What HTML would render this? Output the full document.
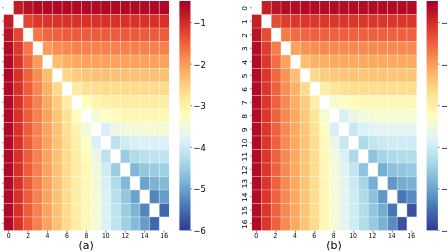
<!DOCTYPE html><html><head><meta charset="utf-8"><title>heatmaps</title><style>html,body{margin:0;padding:0;background:#fff}svg{display:block}.g{stroke:#fff;stroke-width:0.6;stroke-opacity:.5}text{font-family:"DejaVu Sans","Liberation Sans",sans-serif;fill:#000}.t{font-size:7px;text-anchor:middle}.c{font-size:9.3px}.l{font-size:10.4px;text-anchor:middle}.k{stroke:#333;stroke-width:.6}</style></head><body>
<svg width="448" height="252" viewBox="0 0 448 252">
<rect width="448" height="252" fill="#fff"/>
<rect x="13.52" y="1.00" width="9.72" height="13.49" fill="#c21c27"/>
<rect x="23.24" y="1.00" width="9.72" height="13.49" fill="#b71126"/>
<rect x="32.95" y="1.00" width="9.72" height="13.49" fill="#b10b26"/>
<rect x="42.67" y="1.00" width="9.72" height="13.49" fill="#af0926"/>
<rect x="52.39" y="1.00" width="9.72" height="13.49" fill="#af0926"/>
<rect x="62.11" y="1.00" width="9.72" height="13.49" fill="#af0926"/>
<rect x="71.82" y="1.00" width="9.72" height="13.49" fill="#af0926"/>
<rect x="81.54" y="1.00" width="9.72" height="13.49" fill="#af0926"/>
<rect x="91.26" y="1.00" width="9.72" height="13.49" fill="#af0926"/>
<rect x="100.98" y="1.00" width="9.72" height="13.49" fill="#af0926"/>
<rect x="110.69" y="1.00" width="9.72" height="13.49" fill="#af0926"/>
<rect x="120.41" y="1.00" width="9.72" height="13.49" fill="#af0926"/>
<rect x="130.13" y="1.00" width="9.72" height="13.49" fill="#af0926"/>
<rect x="139.85" y="1.00" width="9.72" height="13.49" fill="#af0926"/>
<rect x="149.56" y="1.00" width="9.72" height="13.49" fill="#af0926"/>
<rect x="159.28" y="1.00" width="9.72" height="13.49" fill="#af0926"/>
<rect x="3.80" y="14.49" width="9.72" height="13.49" fill="#c21c27"/>
<rect x="23.24" y="14.49" width="9.72" height="13.49" fill="#e24731"/>
<rect x="32.95" y="14.49" width="9.72" height="13.49" fill="#db382b"/>
<rect x="42.67" y="14.49" width="9.72" height="13.49" fill="#d93429"/>
<rect x="52.39" y="14.49" width="9.72" height="13.49" fill="#d83128"/>
<rect x="62.11" y="14.49" width="9.72" height="13.49" fill="#d83128"/>
<rect x="71.82" y="14.49" width="9.72" height="13.49" fill="#d83128"/>
<rect x="81.54" y="14.49" width="9.72" height="13.49" fill="#d83128"/>
<rect x="91.26" y="14.49" width="9.72" height="13.49" fill="#d83128"/>
<rect x="100.98" y="14.49" width="9.72" height="13.49" fill="#d83128"/>
<rect x="110.69" y="14.49" width="9.72" height="13.49" fill="#d83128"/>
<rect x="120.41" y="14.49" width="9.72" height="13.49" fill="#d83128"/>
<rect x="130.13" y="14.49" width="9.72" height="13.49" fill="#d83128"/>
<rect x="139.85" y="14.49" width="9.72" height="13.49" fill="#d83128"/>
<rect x="149.56" y="14.49" width="9.72" height="13.49" fill="#d83128"/>
<rect x="159.28" y="14.49" width="9.72" height="13.49" fill="#d83128"/>
<rect x="3.80" y="27.99" width="9.72" height="13.49" fill="#b71126"/>
<rect x="13.52" y="27.99" width="9.72" height="13.49" fill="#e24731"/>
<rect x="32.95" y="27.99" width="9.72" height="13.49" fill="#f57748"/>
<rect x="42.67" y="27.99" width="9.72" height="13.49" fill="#f16640"/>
<rect x="52.39" y="27.99" width="9.72" height="13.49" fill="#ee613e"/>
<rect x="62.11" y="27.99" width="9.72" height="13.49" fill="#ec5c3b"/>
<rect x="71.82" y="27.99" width="9.72" height="13.49" fill="#ec5c3b"/>
<rect x="81.54" y="27.99" width="9.72" height="13.49" fill="#ec5c3b"/>
<rect x="91.26" y="27.99" width="9.72" height="13.49" fill="#ec5c3b"/>
<rect x="100.98" y="27.99" width="9.72" height="13.49" fill="#ec5c3b"/>
<rect x="110.69" y="27.99" width="9.72" height="13.49" fill="#ec5c3b"/>
<rect x="120.41" y="27.99" width="9.72" height="13.49" fill="#ec5c3b"/>
<rect x="130.13" y="27.99" width="9.72" height="13.49" fill="#ec5c3b"/>
<rect x="139.85" y="27.99" width="9.72" height="13.49" fill="#ec5c3b"/>
<rect x="149.56" y="27.99" width="9.72" height="13.49" fill="#ec5c3b"/>
<rect x="159.28" y="27.99" width="9.72" height="13.49" fill="#ec5c3b"/>
<rect x="3.80" y="41.48" width="9.72" height="13.49" fill="#b10b26"/>
<rect x="13.52" y="41.48" width="9.72" height="13.49" fill="#db382b"/>
<rect x="23.24" y="41.48" width="9.72" height="13.49" fill="#f57748"/>
<rect x="42.67" y="41.48" width="9.72" height="13.49" fill="#fb9d59"/>
<rect x="52.39" y="41.48" width="9.72" height="13.49" fill="#f88c51"/>
<rect x="62.11" y="41.48" width="9.72" height="13.49" fill="#f8864f"/>
<rect x="71.82" y="41.48" width="9.72" height="13.49" fill="#f7814c"/>
<rect x="81.54" y="41.48" width="9.72" height="13.49" fill="#f7814c"/>
<rect x="91.26" y="41.48" width="9.72" height="13.49" fill="#f7814c"/>
<rect x="100.98" y="41.48" width="9.72" height="13.49" fill="#f7814c"/>
<rect x="110.69" y="41.48" width="9.72" height="13.49" fill="#f7814c"/>
<rect x="120.41" y="41.48" width="9.72" height="13.49" fill="#f7814c"/>
<rect x="130.13" y="41.48" width="9.72" height="13.49" fill="#f7814c"/>
<rect x="139.85" y="41.48" width="9.72" height="13.49" fill="#f7814c"/>
<rect x="149.56" y="41.48" width="9.72" height="13.49" fill="#f7814c"/>
<rect x="159.28" y="41.48" width="9.72" height="13.49" fill="#f7814c"/>
<rect x="3.80" y="54.98" width="9.72" height="13.49" fill="#af0926"/>
<rect x="13.52" y="54.98" width="9.72" height="13.49" fill="#d93429"/>
<rect x="23.24" y="54.98" width="9.72" height="13.49" fill="#f16640"/>
<rect x="32.95" y="54.98" width="9.72" height="13.49" fill="#fb9d59"/>
<rect x="52.39" y="54.98" width="9.72" height="13.49" fill="#fdbd6f"/>
<rect x="62.11" y="54.98" width="9.72" height="13.49" fill="#fdaf62"/>
<rect x="71.82" y="54.98" width="9.72" height="13.49" fill="#fca85e"/>
<rect x="81.54" y="54.98" width="9.72" height="13.49" fill="#fba35c"/>
<rect x="91.26" y="54.98" width="9.72" height="13.49" fill="#fba35c"/>
<rect x="100.98" y="54.98" width="9.72" height="13.49" fill="#fba35c"/>
<rect x="110.69" y="54.98" width="9.72" height="13.49" fill="#fba35c"/>
<rect x="120.41" y="54.98" width="9.72" height="13.49" fill="#fba35c"/>
<rect x="130.13" y="54.98" width="9.72" height="13.49" fill="#fba35c"/>
<rect x="139.85" y="54.98" width="9.72" height="13.49" fill="#fba35c"/>
<rect x="149.56" y="54.98" width="9.72" height="13.49" fill="#fba35c"/>
<rect x="159.28" y="54.98" width="9.72" height="13.49" fill="#fba35c"/>
<rect x="3.80" y="68.47" width="9.72" height="13.49" fill="#af0926"/>
<rect x="13.52" y="68.47" width="9.72" height="13.49" fill="#d83128"/>
<rect x="23.24" y="68.47" width="9.72" height="13.49" fill="#ee613e"/>
<rect x="32.95" y="68.47" width="9.72" height="13.49" fill="#f88c51"/>
<rect x="42.67" y="68.47" width="9.72" height="13.49" fill="#fdbd6f"/>
<rect x="62.11" y="68.47" width="9.72" height="13.49" fill="#fed889"/>
<rect x="71.82" y="68.47" width="9.72" height="13.49" fill="#feca7c"/>
<rect x="81.54" y="68.47" width="9.72" height="13.49" fill="#fdc576"/>
<rect x="91.26" y="68.47" width="9.72" height="13.49" fill="#fdc173"/>
<rect x="100.98" y="68.47" width="9.72" height="13.49" fill="#fdc173"/>
<rect x="110.69" y="68.47" width="9.72" height="13.49" fill="#fdc173"/>
<rect x="120.41" y="68.47" width="9.72" height="13.49" fill="#fdc173"/>
<rect x="130.13" y="68.47" width="9.72" height="13.49" fill="#fdc173"/>
<rect x="139.85" y="68.47" width="9.72" height="13.49" fill="#fdc173"/>
<rect x="149.56" y="68.47" width="9.72" height="13.49" fill="#fdc173"/>
<rect x="159.28" y="68.47" width="9.72" height="13.49" fill="#fdc173"/>
<rect x="3.80" y="81.96" width="9.72" height="13.49" fill="#af0926"/>
<rect x="13.52" y="81.96" width="9.72" height="13.49" fill="#d83128"/>
<rect x="23.24" y="81.96" width="9.72" height="13.49" fill="#ec5c3b"/>
<rect x="32.95" y="81.96" width="9.72" height="13.49" fill="#f8864f"/>
<rect x="42.67" y="81.96" width="9.72" height="13.49" fill="#fdaf62"/>
<rect x="52.39" y="81.96" width="9.72" height="13.49" fill="#fed889"/>
<rect x="71.82" y="81.96" width="9.72" height="13.49" fill="#feeca2"/>
<rect x="81.54" y="81.96" width="9.72" height="13.49" fill="#fee294"/>
<rect x="91.26" y="81.96" width="9.72" height="13.49" fill="#fee090"/>
<rect x="100.98" y="81.96" width="9.72" height="13.49" fill="#fedc8c"/>
<rect x="110.69" y="81.96" width="9.72" height="13.49" fill="#fedc8c"/>
<rect x="120.41" y="81.96" width="9.72" height="13.49" fill="#fedc8c"/>
<rect x="130.13" y="81.96" width="9.72" height="13.49" fill="#fedc8c"/>
<rect x="139.85" y="81.96" width="9.72" height="13.49" fill="#fedc8c"/>
<rect x="149.56" y="81.96" width="9.72" height="13.49" fill="#fedc8c"/>
<rect x="159.28" y="81.96" width="9.72" height="13.49" fill="#fedc8c"/>
<rect x="3.80" y="95.46" width="9.72" height="13.49" fill="#af0926"/>
<rect x="13.52" y="95.46" width="9.72" height="13.49" fill="#d83128"/>
<rect x="23.24" y="95.46" width="9.72" height="13.49" fill="#ec5c3b"/>
<rect x="32.95" y="95.46" width="9.72" height="13.49" fill="#f7814c"/>
<rect x="42.67" y="95.46" width="9.72" height="13.49" fill="#fca85e"/>
<rect x="52.39" y="95.46" width="9.72" height="13.49" fill="#feca7c"/>
<rect x="62.11" y="95.46" width="9.72" height="13.49" fill="#feeca2"/>
<rect x="81.54" y="95.46" width="9.72" height="13.49" fill="#fffdbc"/>
<rect x="91.26" y="95.46" width="9.72" height="13.49" fill="#fff3ad"/>
<rect x="100.98" y="95.46" width="9.72" height="13.49" fill="#fff0a8"/>
<rect x="110.69" y="95.46" width="9.72" height="13.49" fill="#feeda4"/>
<rect x="120.41" y="95.46" width="9.72" height="13.49" fill="#feeda4"/>
<rect x="130.13" y="95.46" width="9.72" height="13.49" fill="#feeda4"/>
<rect x="139.85" y="95.46" width="9.72" height="13.49" fill="#feeda4"/>
<rect x="149.56" y="95.46" width="9.72" height="13.49" fill="#feeda4"/>
<rect x="159.28" y="95.46" width="9.72" height="13.49" fill="#feeda4"/>
<rect x="3.80" y="108.95" width="9.72" height="13.49" fill="#af0926"/>
<rect x="13.52" y="108.95" width="9.72" height="13.49" fill="#d83128"/>
<rect x="23.24" y="108.95" width="9.72" height="13.49" fill="#ec5c3b"/>
<rect x="32.95" y="108.95" width="9.72" height="13.49" fill="#f7814c"/>
<rect x="42.67" y="108.95" width="9.72" height="13.49" fill="#fba35c"/>
<rect x="52.39" y="108.95" width="9.72" height="13.49" fill="#fdc576"/>
<rect x="62.11" y="108.95" width="9.72" height="13.49" fill="#fee294"/>
<rect x="71.82" y="108.95" width="9.72" height="13.49" fill="#fffdbc"/>
<rect x="91.26" y="108.95" width="9.72" height="13.49" fill="#f1fad9"/>
<rect x="100.98" y="108.95" width="9.72" height="13.49" fill="#feffc0"/>
<rect x="110.69" y="108.95" width="9.72" height="13.49" fill="#fffcba"/>
<rect x="120.41" y="108.95" width="9.72" height="13.49" fill="#fff8b5"/>
<rect x="130.13" y="108.95" width="9.72" height="13.49" fill="#fff8b5"/>
<rect x="139.85" y="108.95" width="9.72" height="13.49" fill="#fff8b5"/>
<rect x="149.56" y="108.95" width="9.72" height="13.49" fill="#fff8b5"/>
<rect x="159.28" y="108.95" width="9.72" height="13.49" fill="#fff8b5"/>
<rect x="3.80" y="122.45" width="9.72" height="13.49" fill="#af0926"/>
<rect x="13.52" y="122.45" width="9.72" height="13.49" fill="#d83128"/>
<rect x="23.24" y="122.45" width="9.72" height="13.49" fill="#ec5c3b"/>
<rect x="32.95" y="122.45" width="9.72" height="13.49" fill="#f7814c"/>
<rect x="42.67" y="122.45" width="9.72" height="13.49" fill="#fba35c"/>
<rect x="52.39" y="122.45" width="9.72" height="13.49" fill="#fdc173"/>
<rect x="62.11" y="122.45" width="9.72" height="13.49" fill="#fee090"/>
<rect x="71.82" y="122.45" width="9.72" height="13.49" fill="#fff3ad"/>
<rect x="81.54" y="122.45" width="9.72" height="13.49" fill="#f1fad9"/>
<rect x="100.98" y="122.45" width="9.72" height="13.49" fill="#daf0f6"/>
<rect x="110.69" y="122.45" width="9.72" height="13.49" fill="#ebf7e4"/>
<rect x="120.41" y="122.45" width="9.72" height="13.49" fill="#f0f9db"/>
<rect x="130.13" y="122.45" width="9.72" height="13.49" fill="#f3fbd4"/>
<rect x="139.85" y="122.45" width="9.72" height="13.49" fill="#f3fbd4"/>
<rect x="149.56" y="122.45" width="9.72" height="13.49" fill="#f3fbd4"/>
<rect x="159.28" y="122.45" width="9.72" height="13.49" fill="#f3fbd4"/>
<rect x="3.80" y="135.94" width="9.72" height="13.49" fill="#af0926"/>
<rect x="13.52" y="135.94" width="9.72" height="13.49" fill="#d83128"/>
<rect x="23.24" y="135.94" width="9.72" height="13.49" fill="#ec5c3b"/>
<rect x="32.95" y="135.94" width="9.72" height="13.49" fill="#f7814c"/>
<rect x="42.67" y="135.94" width="9.72" height="13.49" fill="#fba35c"/>
<rect x="52.39" y="135.94" width="9.72" height="13.49" fill="#fdc173"/>
<rect x="62.11" y="135.94" width="9.72" height="13.49" fill="#fedc8c"/>
<rect x="71.82" y="135.94" width="9.72" height="13.49" fill="#fff0a8"/>
<rect x="81.54" y="135.94" width="9.72" height="13.49" fill="#feffc0"/>
<rect x="91.26" y="135.94" width="9.72" height="13.49" fill="#daf0f6"/>
<rect x="110.69" y="135.94" width="9.72" height="13.49" fill="#bde2ee"/>
<rect x="120.41" y="135.94" width="9.72" height="13.49" fill="#cfebf3"/>
<rect x="130.13" y="135.94" width="9.72" height="13.49" fill="#d8eff6"/>
<rect x="139.85" y="135.94" width="9.72" height="13.49" fill="#dcf1f7"/>
<rect x="149.56" y="135.94" width="9.72" height="13.49" fill="#dcf1f7"/>
<rect x="159.28" y="135.94" width="9.72" height="13.49" fill="#dcf1f7"/>
<rect x="3.80" y="149.44" width="9.72" height="13.49" fill="#af0926"/>
<rect x="13.52" y="149.44" width="9.72" height="13.49" fill="#d83128"/>
<rect x="23.24" y="149.44" width="9.72" height="13.49" fill="#ec5c3b"/>
<rect x="32.95" y="149.44" width="9.72" height="13.49" fill="#f7814c"/>
<rect x="42.67" y="149.44" width="9.72" height="13.49" fill="#fba35c"/>
<rect x="52.39" y="149.44" width="9.72" height="13.49" fill="#fdc173"/>
<rect x="62.11" y="149.44" width="9.72" height="13.49" fill="#fedc8c"/>
<rect x="71.82" y="149.44" width="9.72" height="13.49" fill="#feeda4"/>
<rect x="81.54" y="149.44" width="9.72" height="13.49" fill="#fffcba"/>
<rect x="91.26" y="149.44" width="9.72" height="13.49" fill="#ebf7e4"/>
<rect x="100.98" y="149.44" width="9.72" height="13.49" fill="#bde2ee"/>
<rect x="120.41" y="149.44" width="9.72" height="13.49" fill="#9bcce2"/>
<rect x="130.13" y="149.44" width="9.72" height="13.49" fill="#b0dcea"/>
<rect x="139.85" y="149.44" width="9.72" height="13.49" fill="#b9e0ed"/>
<rect x="149.56" y="149.44" width="9.72" height="13.49" fill="#bfe3ef"/>
<rect x="159.28" y="149.44" width="9.72" height="13.49" fill="#bfe3ef"/>
<rect x="3.80" y="162.93" width="9.72" height="13.49" fill="#af0926"/>
<rect x="13.52" y="162.93" width="9.72" height="13.49" fill="#d83128"/>
<rect x="23.24" y="162.93" width="9.72" height="13.49" fill="#ec5c3b"/>
<rect x="32.95" y="162.93" width="9.72" height="13.49" fill="#f7814c"/>
<rect x="42.67" y="162.93" width="9.72" height="13.49" fill="#fba35c"/>
<rect x="52.39" y="162.93" width="9.72" height="13.49" fill="#fdc173"/>
<rect x="62.11" y="162.93" width="9.72" height="13.49" fill="#fedc8c"/>
<rect x="71.82" y="162.93" width="9.72" height="13.49" fill="#feeda4"/>
<rect x="81.54" y="162.93" width="9.72" height="13.49" fill="#fff8b5"/>
<rect x="91.26" y="162.93" width="9.72" height="13.49" fill="#f0f9db"/>
<rect x="100.98" y="162.93" width="9.72" height="13.49" fill="#cfebf3"/>
<rect x="110.69" y="162.93" width="9.72" height="13.49" fill="#9bcce2"/>
<rect x="130.13" y="162.93" width="9.72" height="13.49" fill="#81b7d7"/>
<rect x="139.85" y="162.93" width="9.72" height="13.49" fill="#94c7df"/>
<rect x="149.56" y="162.93" width="9.72" height="13.49" fill="#9bcce2"/>
<rect x="159.28" y="162.93" width="9.72" height="13.49" fill="#9fd0e4"/>
<rect x="3.80" y="176.42" width="9.72" height="13.49" fill="#af0926"/>
<rect x="13.52" y="176.42" width="9.72" height="13.49" fill="#d83128"/>
<rect x="23.24" y="176.42" width="9.72" height="13.49" fill="#ec5c3b"/>
<rect x="32.95" y="176.42" width="9.72" height="13.49" fill="#f7814c"/>
<rect x="42.67" y="176.42" width="9.72" height="13.49" fill="#fba35c"/>
<rect x="52.39" y="176.42" width="9.72" height="13.49" fill="#fdc173"/>
<rect x="62.11" y="176.42" width="9.72" height="13.49" fill="#fedc8c"/>
<rect x="71.82" y="176.42" width="9.72" height="13.49" fill="#feeda4"/>
<rect x="81.54" y="176.42" width="9.72" height="13.49" fill="#fff8b5"/>
<rect x="91.26" y="176.42" width="9.72" height="13.49" fill="#f3fbd4"/>
<rect x="100.98" y="176.42" width="9.72" height="13.49" fill="#d8eff6"/>
<rect x="110.69" y="176.42" width="9.72" height="13.49" fill="#b0dcea"/>
<rect x="120.41" y="176.42" width="9.72" height="13.49" fill="#81b7d7"/>
<rect x="139.85" y="176.42" width="9.72" height="13.49" fill="#6da4cc"/>
<rect x="149.56" y="176.42" width="9.72" height="13.49" fill="#7db4d5"/>
<rect x="159.28" y="176.42" width="9.72" height="13.49" fill="#85bbd9"/>
<rect x="3.80" y="189.92" width="9.72" height="13.49" fill="#af0926"/>
<rect x="13.52" y="189.92" width="9.72" height="13.49" fill="#d83128"/>
<rect x="23.24" y="189.92" width="9.72" height="13.49" fill="#ec5c3b"/>
<rect x="32.95" y="189.92" width="9.72" height="13.49" fill="#f7814c"/>
<rect x="42.67" y="189.92" width="9.72" height="13.49" fill="#fba35c"/>
<rect x="52.39" y="189.92" width="9.72" height="13.49" fill="#fdc173"/>
<rect x="62.11" y="189.92" width="9.72" height="13.49" fill="#fedc8c"/>
<rect x="71.82" y="189.92" width="9.72" height="13.49" fill="#feeda4"/>
<rect x="81.54" y="189.92" width="9.72" height="13.49" fill="#fff8b5"/>
<rect x="91.26" y="189.92" width="9.72" height="13.49" fill="#f3fbd4"/>
<rect x="100.98" y="189.92" width="9.72" height="13.49" fill="#dcf1f7"/>
<rect x="110.69" y="189.92" width="9.72" height="13.49" fill="#b9e0ed"/>
<rect x="120.41" y="189.92" width="9.72" height="13.49" fill="#94c7df"/>
<rect x="130.13" y="189.92" width="9.72" height="13.49" fill="#6da4cc"/>
<rect x="149.56" y="189.92" width="9.72" height="13.49" fill="#5385bd"/>
<rect x="159.28" y="189.92" width="9.72" height="13.49" fill="#679ec9"/>
<rect x="3.80" y="203.41" width="9.72" height="13.49" fill="#af0926"/>
<rect x="13.52" y="203.41" width="9.72" height="13.49" fill="#d83128"/>
<rect x="23.24" y="203.41" width="9.72" height="13.49" fill="#ec5c3b"/>
<rect x="32.95" y="203.41" width="9.72" height="13.49" fill="#f7814c"/>
<rect x="42.67" y="203.41" width="9.72" height="13.49" fill="#fba35c"/>
<rect x="52.39" y="203.41" width="9.72" height="13.49" fill="#fdc173"/>
<rect x="62.11" y="203.41" width="9.72" height="13.49" fill="#fedc8c"/>
<rect x="71.82" y="203.41" width="9.72" height="13.49" fill="#feeda4"/>
<rect x="81.54" y="203.41" width="9.72" height="13.49" fill="#fff8b5"/>
<rect x="91.26" y="203.41" width="9.72" height="13.49" fill="#f3fbd4"/>
<rect x="100.98" y="203.41" width="9.72" height="13.49" fill="#dcf1f7"/>
<rect x="110.69" y="203.41" width="9.72" height="13.49" fill="#bfe3ef"/>
<rect x="120.41" y="203.41" width="9.72" height="13.49" fill="#9bcce2"/>
<rect x="130.13" y="203.41" width="9.72" height="13.49" fill="#7db4d5"/>
<rect x="139.85" y="203.41" width="9.72" height="13.49" fill="#5385bd"/>
<rect x="159.28" y="203.41" width="9.72" height="13.49" fill="#4167ad"/>
<rect x="3.80" y="216.91" width="9.72" height="13.49" fill="#af0926"/>
<rect x="13.52" y="216.91" width="9.72" height="13.49" fill="#d83128"/>
<rect x="23.24" y="216.91" width="9.72" height="13.49" fill="#ec5c3b"/>
<rect x="32.95" y="216.91" width="9.72" height="13.49" fill="#f7814c"/>
<rect x="42.67" y="216.91" width="9.72" height="13.49" fill="#fba35c"/>
<rect x="52.39" y="216.91" width="9.72" height="13.49" fill="#fdc173"/>
<rect x="62.11" y="216.91" width="9.72" height="13.49" fill="#fedc8c"/>
<rect x="71.82" y="216.91" width="9.72" height="13.49" fill="#feeda4"/>
<rect x="81.54" y="216.91" width="9.72" height="13.49" fill="#fff8b5"/>
<rect x="91.26" y="216.91" width="9.72" height="13.49" fill="#f3fbd4"/>
<rect x="100.98" y="216.91" width="9.72" height="13.49" fill="#dcf1f7"/>
<rect x="110.69" y="216.91" width="9.72" height="13.49" fill="#bfe3ef"/>
<rect x="120.41" y="216.91" width="9.72" height="13.49" fill="#9fd0e4"/>
<rect x="130.13" y="216.91" width="9.72" height="13.49" fill="#85bbd9"/>
<rect x="139.85" y="216.91" width="9.72" height="13.49" fill="#679ec9"/>
<rect x="149.56" y="216.91" width="9.72" height="13.49" fill="#4167ad"/>
<line x1="13.52" y1="1.00" x2="13.52" y2="230.40" class="g"/>
<line x1="3.80" y1="14.49" x2="169.00" y2="14.49" class="g"/>
<line x1="23.24" y1="1.00" x2="23.24" y2="230.40" class="g"/>
<line x1="3.80" y1="27.99" x2="169.00" y2="27.99" class="g"/>
<line x1="32.95" y1="1.00" x2="32.95" y2="230.40" class="g"/>
<line x1="3.80" y1="41.48" x2="169.00" y2="41.48" class="g"/>
<line x1="42.67" y1="1.00" x2="42.67" y2="230.40" class="g"/>
<line x1="3.80" y1="54.98" x2="169.00" y2="54.98" class="g"/>
<line x1="52.39" y1="1.00" x2="52.39" y2="230.40" class="g"/>
<line x1="3.80" y1="68.47" x2="169.00" y2="68.47" class="g"/>
<line x1="62.11" y1="1.00" x2="62.11" y2="230.40" class="g"/>
<line x1="3.80" y1="81.96" x2="169.00" y2="81.96" class="g"/>
<line x1="71.82" y1="1.00" x2="71.82" y2="230.40" class="g"/>
<line x1="3.80" y1="95.46" x2="169.00" y2="95.46" class="g"/>
<line x1="81.54" y1="1.00" x2="81.54" y2="230.40" class="g"/>
<line x1="3.80" y1="108.95" x2="169.00" y2="108.95" class="g"/>
<line x1="91.26" y1="1.00" x2="91.26" y2="230.40" class="g"/>
<line x1="3.80" y1="122.45" x2="169.00" y2="122.45" class="g"/>
<line x1="100.98" y1="1.00" x2="100.98" y2="230.40" class="g"/>
<line x1="3.80" y1="135.94" x2="169.00" y2="135.94" class="g"/>
<line x1="110.69" y1="1.00" x2="110.69" y2="230.40" class="g"/>
<line x1="3.80" y1="149.44" x2="169.00" y2="149.44" class="g"/>
<line x1="120.41" y1="1.00" x2="120.41" y2="230.40" class="g"/>
<line x1="3.80" y1="162.93" x2="169.00" y2="162.93" class="g"/>
<line x1="130.13" y1="1.00" x2="130.13" y2="230.40" class="g"/>
<line x1="3.80" y1="176.42" x2="169.00" y2="176.42" class="g"/>
<line x1="139.85" y1="1.00" x2="139.85" y2="230.40" class="g"/>
<line x1="3.80" y1="189.92" x2="169.00" y2="189.92" class="g"/>
<line x1="149.56" y1="1.00" x2="149.56" y2="230.40" class="g"/>
<line x1="3.80" y1="203.41" x2="169.00" y2="203.41" class="g"/>
<line x1="159.28" y1="1.00" x2="159.28" y2="230.40" class="g"/>
<line x1="3.80" y1="216.91" x2="169.00" y2="216.91" class="g"/>
<line class="k" x1="8.66" x2="8.66" y1="230.7" y2="232.7"/>
<text class="t" transform="translate(8.66,238.45) scale(0.87,1)">0</text>
<line class="k" x1="28.09" x2="28.09" y1="230.7" y2="232.7"/>
<text class="t" transform="translate(28.09,238.45) scale(0.87,1)">2</text>
<line class="k" x1="47.53" x2="47.53" y1="230.7" y2="232.7"/>
<text class="t" transform="translate(47.53,238.45) scale(0.87,1)">4</text>
<line class="k" x1="66.96" x2="66.96" y1="230.7" y2="232.7"/>
<text class="t" transform="translate(66.96,238.45) scale(0.87,1)">6</text>
<line class="k" x1="86.40" x2="86.40" y1="230.7" y2="232.7"/>
<text class="t" transform="translate(86.40,238.45) scale(0.87,1)">8</text>
<line class="k" x1="105.84" x2="105.84" y1="230.7" y2="232.7"/>
<text class="t" transform="translate(105.84,238.45) scale(0.87,1)">10</text>
<line class="k" x1="125.27" x2="125.27" y1="230.7" y2="232.7"/>
<text class="t" transform="translate(125.27,238.45) scale(0.87,1)">12</text>
<line class="k" x1="144.71" x2="144.71" y1="230.7" y2="232.7"/>
<text class="t" transform="translate(144.71,238.45) scale(0.87,1)">14</text>
<line class="k" x1="164.14" x2="164.14" y1="230.7" y2="232.7"/>
<text class="t" transform="translate(164.14,238.45) scale(0.87,1)">16</text>
<line class="k" x1="2.2" x2="3.6" y1="7.75" y2="7.75"/>
<line class="k" x1="2.2" x2="3.6" y1="21.24" y2="21.24"/>
<line class="k" x1="2.2" x2="3.6" y1="34.74" y2="34.74"/>
<line class="k" x1="2.2" x2="3.6" y1="48.23" y2="48.23"/>
<line class="k" x1="2.2" x2="3.6" y1="61.72" y2="61.72"/>
<line class="k" x1="2.2" x2="3.6" y1="75.22" y2="75.22"/>
<line class="k" x1="2.2" x2="3.6" y1="88.71" y2="88.71"/>
<line class="k" x1="2.2" x2="3.6" y1="102.21" y2="102.21"/>
<line class="k" x1="2.2" x2="3.6" y1="115.70" y2="115.70"/>
<line class="k" x1="2.2" x2="3.6" y1="129.19" y2="129.19"/>
<line class="k" x1="2.2" x2="3.6" y1="142.69" y2="142.69"/>
<line class="k" x1="2.2" x2="3.6" y1="156.18" y2="156.18"/>
<line class="k" x1="2.2" x2="3.6" y1="169.68" y2="169.68"/>
<line class="k" x1="2.2" x2="3.6" y1="183.17" y2="183.17"/>
<line class="k" x1="2.2" x2="3.6" y1="196.66" y2="196.66"/>
<line class="k" x1="2.2" x2="3.6" y1="210.16" y2="210.16"/>
<line class="k" x1="2.2" x2="3.6" y1="223.65" y2="223.65"/>
<defs><linearGradient id="ga" x1="0" y1="0" x2="0" y2="1"><stop offset="0.0000" stop-color="#a50026"/><stop offset="0.0312" stop-color="#b30d26"/><stop offset="0.0625" stop-color="#c21c27"/><stop offset="0.0938" stop-color="#d22b27"/><stop offset="0.1250" stop-color="#dd3d2d"/><stop offset="0.1562" stop-color="#e65036"/><stop offset="0.1875" stop-color="#ef633f"/><stop offset="0.2188" stop-color="#f57748"/><stop offset="0.2500" stop-color="#f88c51"/><stop offset="0.2812" stop-color="#fba05b"/><stop offset="0.3125" stop-color="#fdb366"/><stop offset="0.3438" stop-color="#fdc374"/><stop offset="0.3750" stop-color="#fed283"/><stop offset="0.4062" stop-color="#fee192"/><stop offset="0.4375" stop-color="#feeba1"/><stop offset="0.4688" stop-color="#fff5af"/><stop offset="0.5000" stop-color="#fffebe"/><stop offset="0.5312" stop-color="#f6fbd0"/><stop offset="0.5625" stop-color="#ecf8e2"/><stop offset="0.5938" stop-color="#e2f4f4"/><stop offset="0.6250" stop-color="#d4edf4"/><stop offset="0.6562" stop-color="#c3e5f0"/><stop offset="0.6875" stop-color="#b2ddeb"/><stop offset="0.7188" stop-color="#a1d1e5"/><stop offset="0.7500" stop-color="#90c3dd"/><stop offset="0.7812" stop-color="#7fb6d6"/><stop offset="0.8125" stop-color="#6ea6ce"/><stop offset="0.8438" stop-color="#6095c4"/><stop offset="0.8750" stop-color="#5183bb"/><stop offset="0.9062" stop-color="#4471b2"/><stop offset="0.9375" stop-color="#3e5ea8"/><stop offset="0.9688" stop-color="#374a9f"/><stop offset="1.0000" stop-color="#313695"/></linearGradient></defs><rect x="179.40" y="1.00" width="11.10" height="229.40" fill="url(#ga)"/>
<line class="k" x1="190.5" x2="192.2" y1="22.50" y2="22.50"/>
<text class="c" transform="translate(193.4,26.10) scale(0.9,1)">−1</text>
<line class="k" x1="190.5" x2="192.2" y1="64.08" y2="64.08"/>
<text class="c" transform="translate(193.4,67.68) scale(0.9,1)">−2</text>
<line class="k" x1="190.5" x2="192.2" y1="105.66" y2="105.66"/>
<text class="c" transform="translate(193.4,109.26) scale(0.9,1)">−3</text>
<line class="k" x1="190.5" x2="192.2" y1="147.24" y2="147.24"/>
<text class="c" transform="translate(193.4,150.84) scale(0.9,1)">−4</text>
<line class="k" x1="190.5" x2="192.2" y1="188.82" y2="188.82"/>
<text class="c" transform="translate(193.4,192.42) scale(0.9,1)">−5</text>
<line class="k" x1="190.5" x2="192.2" y1="230.40" y2="230.40"/>
<text class="c" transform="translate(193.4,234.00) scale(0.9,1)">−6</text>
<text class="l" transform="translate(86.1,248.9) scale(1.06,1)">(a)</text>
<rect x="261.59" y="1.00" width="9.69" height="13.49" fill="#c62027"/>
<rect x="271.28" y="1.00" width="9.69" height="13.49" fill="#b91326"/>
<rect x="280.96" y="1.00" width="9.69" height="13.49" fill="#b30d26"/>
<rect x="290.65" y="1.00" width="9.69" height="13.49" fill="#b10b26"/>
<rect x="300.34" y="1.00" width="9.69" height="13.49" fill="#b10b26"/>
<rect x="310.03" y="1.00" width="9.69" height="13.49" fill="#b10b26"/>
<rect x="319.72" y="1.00" width="9.69" height="13.49" fill="#b10b26"/>
<rect x="329.41" y="1.00" width="9.69" height="13.49" fill="#b10b26"/>
<rect x="339.09" y="1.00" width="9.69" height="13.49" fill="#b10b26"/>
<rect x="348.78" y="1.00" width="9.69" height="13.49" fill="#b10b26"/>
<rect x="358.47" y="1.00" width="9.69" height="13.49" fill="#b10b26"/>
<rect x="368.16" y="1.00" width="9.69" height="13.49" fill="#b10b26"/>
<rect x="377.85" y="1.00" width="9.69" height="13.49" fill="#b10b26"/>
<rect x="387.54" y="1.00" width="9.69" height="13.49" fill="#b10b26"/>
<rect x="397.22" y="1.00" width="9.69" height="13.49" fill="#b10b26"/>
<rect x="406.91" y="1.00" width="9.69" height="13.49" fill="#b10b26"/>
<rect x="251.90" y="14.49" width="9.69" height="13.49" fill="#c62027"/>
<rect x="271.28" y="14.49" width="9.69" height="13.49" fill="#e44c34"/>
<rect x="280.96" y="14.49" width="9.69" height="13.49" fill="#dd3d2d"/>
<rect x="290.65" y="14.49" width="9.69" height="13.49" fill="#db382b"/>
<rect x="300.34" y="14.49" width="9.69" height="13.49" fill="#da362a"/>
<rect x="310.03" y="14.49" width="9.69" height="13.49" fill="#da362a"/>
<rect x="319.72" y="14.49" width="9.69" height="13.49" fill="#da362a"/>
<rect x="329.41" y="14.49" width="9.69" height="13.49" fill="#da362a"/>
<rect x="339.09" y="14.49" width="9.69" height="13.49" fill="#da362a"/>
<rect x="348.78" y="14.49" width="9.69" height="13.49" fill="#da362a"/>
<rect x="358.47" y="14.49" width="9.69" height="13.49" fill="#da362a"/>
<rect x="368.16" y="14.49" width="9.69" height="13.49" fill="#da362a"/>
<rect x="377.85" y="14.49" width="9.69" height="13.49" fill="#da362a"/>
<rect x="387.54" y="14.49" width="9.69" height="13.49" fill="#da362a"/>
<rect x="397.22" y="14.49" width="9.69" height="13.49" fill="#da362a"/>
<rect x="406.91" y="14.49" width="9.69" height="13.49" fill="#da362a"/>
<rect x="251.90" y="27.99" width="9.69" height="13.49" fill="#b91326"/>
<rect x="261.59" y="27.99" width="9.69" height="13.49" fill="#e44c34"/>
<rect x="280.96" y="27.99" width="9.69" height="13.49" fill="#f67c4a"/>
<rect x="290.65" y="27.99" width="9.69" height="13.49" fill="#f36b42"/>
<rect x="300.34" y="27.99" width="9.69" height="13.49" fill="#f16640"/>
<rect x="310.03" y="27.99" width="9.69" height="13.49" fill="#ee613e"/>
<rect x="319.72" y="27.99" width="9.69" height="13.49" fill="#ee613e"/>
<rect x="329.41" y="27.99" width="9.69" height="13.49" fill="#ee613e"/>
<rect x="339.09" y="27.99" width="9.69" height="13.49" fill="#ee613e"/>
<rect x="348.78" y="27.99" width="9.69" height="13.49" fill="#ee613e"/>
<rect x="358.47" y="27.99" width="9.69" height="13.49" fill="#ee613e"/>
<rect x="368.16" y="27.99" width="9.69" height="13.49" fill="#ee613e"/>
<rect x="377.85" y="27.99" width="9.69" height="13.49" fill="#ee613e"/>
<rect x="387.54" y="27.99" width="9.69" height="13.49" fill="#ee613e"/>
<rect x="397.22" y="27.99" width="9.69" height="13.49" fill="#ee613e"/>
<rect x="406.91" y="27.99" width="9.69" height="13.49" fill="#ee613e"/>
<rect x="251.90" y="41.48" width="9.69" height="13.49" fill="#b30d26"/>
<rect x="261.59" y="41.48" width="9.69" height="13.49" fill="#dd3d2d"/>
<rect x="271.28" y="41.48" width="9.69" height="13.49" fill="#f67c4a"/>
<rect x="290.65" y="41.48" width="9.69" height="13.49" fill="#fba35c"/>
<rect x="300.34" y="41.48" width="9.69" height="13.49" fill="#f99355"/>
<rect x="310.03" y="41.48" width="9.69" height="13.49" fill="#f98e52"/>
<rect x="319.72" y="41.48" width="9.69" height="13.49" fill="#f88950"/>
<rect x="329.41" y="41.48" width="9.69" height="13.49" fill="#f88950"/>
<rect x="339.09" y="41.48" width="9.69" height="13.49" fill="#f88950"/>
<rect x="348.78" y="41.48" width="9.69" height="13.49" fill="#f88950"/>
<rect x="358.47" y="41.48" width="9.69" height="13.49" fill="#f88950"/>
<rect x="368.16" y="41.48" width="9.69" height="13.49" fill="#f88950"/>
<rect x="377.85" y="41.48" width="9.69" height="13.49" fill="#f88950"/>
<rect x="387.54" y="41.48" width="9.69" height="13.49" fill="#f88950"/>
<rect x="397.22" y="41.48" width="9.69" height="13.49" fill="#f88950"/>
<rect x="406.91" y="41.48" width="9.69" height="13.49" fill="#f88950"/>
<rect x="251.90" y="54.98" width="9.69" height="13.49" fill="#b10b26"/>
<rect x="261.59" y="54.98" width="9.69" height="13.49" fill="#db382b"/>
<rect x="271.28" y="54.98" width="9.69" height="13.49" fill="#f36b42"/>
<rect x="280.96" y="54.98" width="9.69" height="13.49" fill="#fba35c"/>
<rect x="300.34" y="54.98" width="9.69" height="13.49" fill="#fdbf71"/>
<rect x="310.03" y="54.98" width="9.69" height="13.49" fill="#fdb366"/>
<rect x="319.72" y="54.98" width="9.69" height="13.49" fill="#fdaf62"/>
<rect x="329.41" y="54.98" width="9.69" height="13.49" fill="#fcaa5f"/>
<rect x="339.09" y="54.98" width="9.69" height="13.49" fill="#fcaa5f"/>
<rect x="348.78" y="54.98" width="9.69" height="13.49" fill="#fcaa5f"/>
<rect x="358.47" y="54.98" width="9.69" height="13.49" fill="#fcaa5f"/>
<rect x="368.16" y="54.98" width="9.69" height="13.49" fill="#fcaa5f"/>
<rect x="377.85" y="54.98" width="9.69" height="13.49" fill="#fcaa5f"/>
<rect x="387.54" y="54.98" width="9.69" height="13.49" fill="#fcaa5f"/>
<rect x="397.22" y="54.98" width="9.69" height="13.49" fill="#fcaa5f"/>
<rect x="406.91" y="54.98" width="9.69" height="13.49" fill="#fcaa5f"/>
<rect x="251.90" y="68.47" width="9.69" height="13.49" fill="#b10b26"/>
<rect x="261.59" y="68.47" width="9.69" height="13.49" fill="#da362a"/>
<rect x="271.28" y="68.47" width="9.69" height="13.49" fill="#f16640"/>
<rect x="280.96" y="68.47" width="9.69" height="13.49" fill="#f99355"/>
<rect x="290.65" y="68.47" width="9.69" height="13.49" fill="#fdbf71"/>
<rect x="310.03" y="68.47" width="9.69" height="13.49" fill="#feda8a"/>
<rect x="319.72" y="68.47" width="9.69" height="13.49" fill="#fecc7e"/>
<rect x="329.41" y="68.47" width="9.69" height="13.49" fill="#fec87a"/>
<rect x="339.09" y="68.47" width="9.69" height="13.49" fill="#fdc576"/>
<rect x="348.78" y="68.47" width="9.69" height="13.49" fill="#fdc576"/>
<rect x="358.47" y="68.47" width="9.69" height="13.49" fill="#fdc576"/>
<rect x="368.16" y="68.47" width="9.69" height="13.49" fill="#fdc576"/>
<rect x="377.85" y="68.47" width="9.69" height="13.49" fill="#fdc576"/>
<rect x="387.54" y="68.47" width="9.69" height="13.49" fill="#fdc576"/>
<rect x="397.22" y="68.47" width="9.69" height="13.49" fill="#fdc576"/>
<rect x="406.91" y="68.47" width="9.69" height="13.49" fill="#fdc576"/>
<rect x="251.90" y="81.96" width="9.69" height="13.49" fill="#b10b26"/>
<rect x="261.59" y="81.96" width="9.69" height="13.49" fill="#da362a"/>
<rect x="271.28" y="81.96" width="9.69" height="13.49" fill="#ee613e"/>
<rect x="280.96" y="81.96" width="9.69" height="13.49" fill="#f98e52"/>
<rect x="290.65" y="81.96" width="9.69" height="13.49" fill="#fdb366"/>
<rect x="300.34" y="81.96" width="9.69" height="13.49" fill="#feda8a"/>
<rect x="319.72" y="81.96" width="9.69" height="13.49" fill="#feefa6"/>
<rect x="329.41" y="81.96" width="9.69" height="13.49" fill="#fee597"/>
<rect x="339.09" y="81.96" width="9.69" height="13.49" fill="#fee192"/>
<rect x="348.78" y="81.96" width="9.69" height="13.49" fill="#fede8e"/>
<rect x="358.47" y="81.96" width="9.69" height="13.49" fill="#fede8e"/>
<rect x="368.16" y="81.96" width="9.69" height="13.49" fill="#fede8e"/>
<rect x="377.85" y="81.96" width="9.69" height="13.49" fill="#fede8e"/>
<rect x="387.54" y="81.96" width="9.69" height="13.49" fill="#fede8e"/>
<rect x="397.22" y="81.96" width="9.69" height="13.49" fill="#fede8e"/>
<rect x="406.91" y="81.96" width="9.69" height="13.49" fill="#fede8e"/>
<rect x="251.90" y="95.46" width="9.69" height="13.49" fill="#b10b26"/>
<rect x="261.59" y="95.46" width="9.69" height="13.49" fill="#da362a"/>
<rect x="271.28" y="95.46" width="9.69" height="13.49" fill="#ee613e"/>
<rect x="280.96" y="95.46" width="9.69" height="13.49" fill="#f88950"/>
<rect x="290.65" y="95.46" width="9.69" height="13.49" fill="#fdaf62"/>
<rect x="300.34" y="95.46" width="9.69" height="13.49" fill="#fecc7e"/>
<rect x="310.03" y="95.46" width="9.69" height="13.49" fill="#feefa6"/>
<rect x="329.41" y="95.46" width="9.69" height="13.49" fill="#f5fbd2"/>
<rect x="339.09" y="95.46" width="9.69" height="13.49" fill="#fffebe"/>
<rect x="348.78" y="95.46" width="9.69" height="13.49" fill="#fffbb9"/>
<rect x="358.47" y="95.46" width="9.69" height="13.49" fill="#fff8b5"/>
<rect x="368.16" y="95.46" width="9.69" height="13.49" fill="#fff8b5"/>
<rect x="377.85" y="95.46" width="9.69" height="13.49" fill="#fff8b5"/>
<rect x="387.54" y="95.46" width="9.69" height="13.49" fill="#fff8b5"/>
<rect x="397.22" y="95.46" width="9.69" height="13.49" fill="#fff8b5"/>
<rect x="406.91" y="95.46" width="9.69" height="13.49" fill="#fff8b5"/>
<rect x="251.90" y="108.95" width="9.69" height="13.49" fill="#b10b26"/>
<rect x="261.59" y="108.95" width="9.69" height="13.49" fill="#da362a"/>
<rect x="271.28" y="108.95" width="9.69" height="13.49" fill="#ee613e"/>
<rect x="280.96" y="108.95" width="9.69" height="13.49" fill="#f88950"/>
<rect x="290.65" y="108.95" width="9.69" height="13.49" fill="#fcaa5f"/>
<rect x="300.34" y="108.95" width="9.69" height="13.49" fill="#fec87a"/>
<rect x="310.03" y="108.95" width="9.69" height="13.49" fill="#fee597"/>
<rect x="319.72" y="108.95" width="9.69" height="13.49" fill="#f5fbd2"/>
<rect x="339.09" y="108.95" width="9.69" height="13.49" fill="#d8eff6"/>
<rect x="348.78" y="108.95" width="9.69" height="13.49" fill="#ebf7e4"/>
<rect x="358.47" y="108.95" width="9.69" height="13.49" fill="#f1fad9"/>
<rect x="368.16" y="108.95" width="9.69" height="13.49" fill="#f5fbd2"/>
<rect x="377.85" y="108.95" width="9.69" height="13.49" fill="#f5fbd2"/>
<rect x="387.54" y="108.95" width="9.69" height="13.49" fill="#f5fbd2"/>
<rect x="397.22" y="108.95" width="9.69" height="13.49" fill="#f5fbd2"/>
<rect x="406.91" y="108.95" width="9.69" height="13.49" fill="#f5fbd2"/>
<rect x="251.90" y="122.45" width="9.69" height="13.49" fill="#b10b26"/>
<rect x="261.59" y="122.45" width="9.69" height="13.49" fill="#da362a"/>
<rect x="271.28" y="122.45" width="9.69" height="13.49" fill="#ee613e"/>
<rect x="280.96" y="122.45" width="9.69" height="13.49" fill="#f88950"/>
<rect x="290.65" y="122.45" width="9.69" height="13.49" fill="#fcaa5f"/>
<rect x="300.34" y="122.45" width="9.69" height="13.49" fill="#fdc576"/>
<rect x="310.03" y="122.45" width="9.69" height="13.49" fill="#fee192"/>
<rect x="319.72" y="122.45" width="9.69" height="13.49" fill="#fffebe"/>
<rect x="329.41" y="122.45" width="9.69" height="13.49" fill="#d8eff6"/>
<rect x="348.78" y="122.45" width="9.69" height="13.49" fill="#c7e7f1"/>
<rect x="358.47" y="122.45" width="9.69" height="13.49" fill="#dcf1f7"/>
<rect x="368.16" y="122.45" width="9.69" height="13.49" fill="#e1f3f6"/>
<rect x="377.85" y="122.45" width="9.69" height="13.49" fill="#e4f4f1"/>
<rect x="387.54" y="122.45" width="9.69" height="13.49" fill="#e4f4f1"/>
<rect x="397.22" y="122.45" width="9.69" height="13.49" fill="#e4f4f1"/>
<rect x="406.91" y="122.45" width="9.69" height="13.49" fill="#e4f4f1"/>
<rect x="251.90" y="135.94" width="9.69" height="13.49" fill="#b10b26"/>
<rect x="261.59" y="135.94" width="9.69" height="13.49" fill="#da362a"/>
<rect x="271.28" y="135.94" width="9.69" height="13.49" fill="#ee613e"/>
<rect x="280.96" y="135.94" width="9.69" height="13.49" fill="#f88950"/>
<rect x="290.65" y="135.94" width="9.69" height="13.49" fill="#fcaa5f"/>
<rect x="300.34" y="135.94" width="9.69" height="13.49" fill="#fdc576"/>
<rect x="310.03" y="135.94" width="9.69" height="13.49" fill="#fede8e"/>
<rect x="319.72" y="135.94" width="9.69" height="13.49" fill="#fffbb9"/>
<rect x="329.41" y="135.94" width="9.69" height="13.49" fill="#ebf7e4"/>
<rect x="339.09" y="135.94" width="9.69" height="13.49" fill="#c7e7f1"/>
<rect x="358.47" y="135.94" width="9.69" height="13.49" fill="#acdae9"/>
<rect x="368.16" y="135.94" width="9.69" height="13.49" fill="#c3e5f0"/>
<rect x="377.85" y="135.94" width="9.69" height="13.49" fill="#cbe9f2"/>
<rect x="387.54" y="135.94" width="9.69" height="13.49" fill="#cfebf3"/>
<rect x="397.22" y="135.94" width="9.69" height="13.49" fill="#cfebf3"/>
<rect x="406.91" y="135.94" width="9.69" height="13.49" fill="#cfebf3"/>
<rect x="251.90" y="149.44" width="9.69" height="13.49" fill="#b10b26"/>
<rect x="261.59" y="149.44" width="9.69" height="13.49" fill="#da362a"/>
<rect x="271.28" y="149.44" width="9.69" height="13.49" fill="#ee613e"/>
<rect x="280.96" y="149.44" width="9.69" height="13.49" fill="#f88950"/>
<rect x="290.65" y="149.44" width="9.69" height="13.49" fill="#fcaa5f"/>
<rect x="300.34" y="149.44" width="9.69" height="13.49" fill="#fdc576"/>
<rect x="310.03" y="149.44" width="9.69" height="13.49" fill="#fede8e"/>
<rect x="319.72" y="149.44" width="9.69" height="13.49" fill="#fff8b5"/>
<rect x="329.41" y="149.44" width="9.69" height="13.49" fill="#f1fad9"/>
<rect x="339.09" y="149.44" width="9.69" height="13.49" fill="#dcf1f7"/>
<rect x="348.78" y="149.44" width="9.69" height="13.49" fill="#acdae9"/>
<rect x="368.16" y="149.44" width="9.69" height="13.49" fill="#90c3dd"/>
<rect x="377.85" y="149.44" width="9.69" height="13.49" fill="#a6d5e7"/>
<rect x="387.54" y="149.44" width="9.69" height="13.49" fill="#aedbea"/>
<rect x="397.22" y="149.44" width="9.69" height="13.49" fill="#b2ddeb"/>
<rect x="406.91" y="149.44" width="9.69" height="13.49" fill="#b2ddeb"/>
<rect x="251.90" y="162.93" width="9.69" height="13.49" fill="#b10b26"/>
<rect x="261.59" y="162.93" width="9.69" height="13.49" fill="#da362a"/>
<rect x="271.28" y="162.93" width="9.69" height="13.49" fill="#ee613e"/>
<rect x="280.96" y="162.93" width="9.69" height="13.49" fill="#f88950"/>
<rect x="290.65" y="162.93" width="9.69" height="13.49" fill="#fcaa5f"/>
<rect x="300.34" y="162.93" width="9.69" height="13.49" fill="#fdc576"/>
<rect x="310.03" y="162.93" width="9.69" height="13.49" fill="#fede8e"/>
<rect x="319.72" y="162.93" width="9.69" height="13.49" fill="#fff8b5"/>
<rect x="329.41" y="162.93" width="9.69" height="13.49" fill="#f5fbd2"/>
<rect x="339.09" y="162.93" width="9.69" height="13.49" fill="#e1f3f6"/>
<rect x="348.78" y="162.93" width="9.69" height="13.49" fill="#c3e5f0"/>
<rect x="358.47" y="162.93" width="9.69" height="13.49" fill="#90c3dd"/>
<rect x="377.85" y="162.93" width="9.69" height="13.49" fill="#76afd2"/>
<rect x="387.54" y="162.93" width="9.69" height="13.49" fill="#8cc0db"/>
<rect x="397.22" y="162.93" width="9.69" height="13.49" fill="#92c5de"/>
<rect x="406.91" y="162.93" width="9.69" height="13.49" fill="#97c9e0"/>
<rect x="251.90" y="176.42" width="9.69" height="13.49" fill="#b10b26"/>
<rect x="261.59" y="176.42" width="9.69" height="13.49" fill="#da362a"/>
<rect x="271.28" y="176.42" width="9.69" height="13.49" fill="#ee613e"/>
<rect x="280.96" y="176.42" width="9.69" height="13.49" fill="#f88950"/>
<rect x="290.65" y="176.42" width="9.69" height="13.49" fill="#fcaa5f"/>
<rect x="300.34" y="176.42" width="9.69" height="13.49" fill="#fdc576"/>
<rect x="310.03" y="176.42" width="9.69" height="13.49" fill="#fede8e"/>
<rect x="319.72" y="176.42" width="9.69" height="13.49" fill="#fff8b5"/>
<rect x="329.41" y="176.42" width="9.69" height="13.49" fill="#f5fbd2"/>
<rect x="339.09" y="176.42" width="9.69" height="13.49" fill="#e4f4f1"/>
<rect x="348.78" y="176.42" width="9.69" height="13.49" fill="#cbe9f2"/>
<rect x="358.47" y="176.42" width="9.69" height="13.49" fill="#a6d5e7"/>
<rect x="368.16" y="176.42" width="9.69" height="13.49" fill="#76afd2"/>
<rect x="387.54" y="176.42" width="9.69" height="13.49" fill="#6297c6"/>
<rect x="397.22" y="176.42" width="9.69" height="13.49" fill="#74add1"/>
<rect x="406.91" y="176.42" width="9.69" height="13.49" fill="#7ab2d4"/>
<rect x="251.90" y="189.92" width="9.69" height="13.49" fill="#b10b26"/>
<rect x="261.59" y="189.92" width="9.69" height="13.49" fill="#da362a"/>
<rect x="271.28" y="189.92" width="9.69" height="13.49" fill="#ee613e"/>
<rect x="280.96" y="189.92" width="9.69" height="13.49" fill="#f88950"/>
<rect x="290.65" y="189.92" width="9.69" height="13.49" fill="#fcaa5f"/>
<rect x="300.34" y="189.92" width="9.69" height="13.49" fill="#fdc576"/>
<rect x="310.03" y="189.92" width="9.69" height="13.49" fill="#fede8e"/>
<rect x="319.72" y="189.92" width="9.69" height="13.49" fill="#fff8b5"/>
<rect x="329.41" y="189.92" width="9.69" height="13.49" fill="#f5fbd2"/>
<rect x="339.09" y="189.92" width="9.69" height="13.49" fill="#e4f4f1"/>
<rect x="348.78" y="189.92" width="9.69" height="13.49" fill="#cfebf3"/>
<rect x="358.47" y="189.92" width="9.69" height="13.49" fill="#aedbea"/>
<rect x="368.16" y="189.92" width="9.69" height="13.49" fill="#8cc0db"/>
<rect x="377.85" y="189.92" width="9.69" height="13.49" fill="#6297c6"/>
<rect x="397.22" y="189.92" width="9.69" height="13.49" fill="#4676b5"/>
<rect x="406.91" y="189.92" width="9.69" height="13.49" fill="#588cc0"/>
<rect x="251.90" y="203.41" width="9.69" height="13.49" fill="#b10b26"/>
<rect x="261.59" y="203.41" width="9.69" height="13.49" fill="#da362a"/>
<rect x="271.28" y="203.41" width="9.69" height="13.49" fill="#ee613e"/>
<rect x="280.96" y="203.41" width="9.69" height="13.49" fill="#f88950"/>
<rect x="290.65" y="203.41" width="9.69" height="13.49" fill="#fcaa5f"/>
<rect x="300.34" y="203.41" width="9.69" height="13.49" fill="#fdc576"/>
<rect x="310.03" y="203.41" width="9.69" height="13.49" fill="#fede8e"/>
<rect x="319.72" y="203.41" width="9.69" height="13.49" fill="#fff8b5"/>
<rect x="329.41" y="203.41" width="9.69" height="13.49" fill="#f5fbd2"/>
<rect x="339.09" y="203.41" width="9.69" height="13.49" fill="#e4f4f1"/>
<rect x="348.78" y="203.41" width="9.69" height="13.49" fill="#cfebf3"/>
<rect x="358.47" y="203.41" width="9.69" height="13.49" fill="#b2ddeb"/>
<rect x="368.16" y="203.41" width="9.69" height="13.49" fill="#92c5de"/>
<rect x="377.85" y="203.41" width="9.69" height="13.49" fill="#74add1"/>
<rect x="387.54" y="203.41" width="9.69" height="13.49" fill="#4676b5"/>
<rect x="406.91" y="203.41" width="9.69" height="13.49" fill="#3a51a2"/>
<rect x="251.90" y="216.91" width="9.69" height="13.49" fill="#b10b26"/>
<rect x="261.59" y="216.91" width="9.69" height="13.49" fill="#da362a"/>
<rect x="271.28" y="216.91" width="9.69" height="13.49" fill="#ee613e"/>
<rect x="280.96" y="216.91" width="9.69" height="13.49" fill="#f88950"/>
<rect x="290.65" y="216.91" width="9.69" height="13.49" fill="#fcaa5f"/>
<rect x="300.34" y="216.91" width="9.69" height="13.49" fill="#fdc576"/>
<rect x="310.03" y="216.91" width="9.69" height="13.49" fill="#fede8e"/>
<rect x="319.72" y="216.91" width="9.69" height="13.49" fill="#fff8b5"/>
<rect x="329.41" y="216.91" width="9.69" height="13.49" fill="#f5fbd2"/>
<rect x="339.09" y="216.91" width="9.69" height="13.49" fill="#e4f4f1"/>
<rect x="348.78" y="216.91" width="9.69" height="13.49" fill="#cfebf3"/>
<rect x="358.47" y="216.91" width="9.69" height="13.49" fill="#b2ddeb"/>
<rect x="368.16" y="216.91" width="9.69" height="13.49" fill="#97c9e0"/>
<rect x="377.85" y="216.91" width="9.69" height="13.49" fill="#7ab2d4"/>
<rect x="387.54" y="216.91" width="9.69" height="13.49" fill="#588cc0"/>
<rect x="397.22" y="216.91" width="9.69" height="13.49" fill="#3a51a2"/>
<line x1="261.59" y1="1.00" x2="261.59" y2="230.40" class="g"/>
<line x1="251.90" y1="14.49" x2="416.60" y2="14.49" class="g"/>
<line x1="271.28" y1="1.00" x2="271.28" y2="230.40" class="g"/>
<line x1="251.90" y1="27.99" x2="416.60" y2="27.99" class="g"/>
<line x1="280.96" y1="1.00" x2="280.96" y2="230.40" class="g"/>
<line x1="251.90" y1="41.48" x2="416.60" y2="41.48" class="g"/>
<line x1="290.65" y1="1.00" x2="290.65" y2="230.40" class="g"/>
<line x1="251.90" y1="54.98" x2="416.60" y2="54.98" class="g"/>
<line x1="300.34" y1="1.00" x2="300.34" y2="230.40" class="g"/>
<line x1="251.90" y1="68.47" x2="416.60" y2="68.47" class="g"/>
<line x1="310.03" y1="1.00" x2="310.03" y2="230.40" class="g"/>
<line x1="251.90" y1="81.96" x2="416.60" y2="81.96" class="g"/>
<line x1="319.72" y1="1.00" x2="319.72" y2="230.40" class="g"/>
<line x1="251.90" y1="95.46" x2="416.60" y2="95.46" class="g"/>
<line x1="329.41" y1="1.00" x2="329.41" y2="230.40" class="g"/>
<line x1="251.90" y1="108.95" x2="416.60" y2="108.95" class="g"/>
<line x1="339.09" y1="1.00" x2="339.09" y2="230.40" class="g"/>
<line x1="251.90" y1="122.45" x2="416.60" y2="122.45" class="g"/>
<line x1="348.78" y1="1.00" x2="348.78" y2="230.40" class="g"/>
<line x1="251.90" y1="135.94" x2="416.60" y2="135.94" class="g"/>
<line x1="358.47" y1="1.00" x2="358.47" y2="230.40" class="g"/>
<line x1="251.90" y1="149.44" x2="416.60" y2="149.44" class="g"/>
<line x1="368.16" y1="1.00" x2="368.16" y2="230.40" class="g"/>
<line x1="251.90" y1="162.93" x2="416.60" y2="162.93" class="g"/>
<line x1="377.85" y1="1.00" x2="377.85" y2="230.40" class="g"/>
<line x1="251.90" y1="176.42" x2="416.60" y2="176.42" class="g"/>
<line x1="387.54" y1="1.00" x2="387.54" y2="230.40" class="g"/>
<line x1="251.90" y1="189.92" x2="416.60" y2="189.92" class="g"/>
<line x1="397.22" y1="1.00" x2="397.22" y2="230.40" class="g"/>
<line x1="251.90" y1="203.41" x2="416.60" y2="203.41" class="g"/>
<line x1="406.91" y1="1.00" x2="406.91" y2="230.40" class="g"/>
<line x1="251.90" y1="216.91" x2="416.60" y2="216.91" class="g"/>
<line class="k" x1="256.74" x2="256.74" y1="230.7" y2="232.7"/>
<text class="t" transform="translate(256.14,238.45) scale(0.87,1)">0</text>
<line class="k" x1="276.12" x2="276.12" y1="230.7" y2="232.7"/>
<text class="t" transform="translate(275.52,238.45) scale(0.87,1)">2</text>
<line class="k" x1="295.50" x2="295.50" y1="230.7" y2="232.7"/>
<text class="t" transform="translate(294.90,238.45) scale(0.87,1)">4</text>
<line class="k" x1="314.87" x2="314.87" y1="230.7" y2="232.7"/>
<text class="t" transform="translate(314.27,238.45) scale(0.87,1)">6</text>
<line class="k" x1="334.25" x2="334.25" y1="230.7" y2="232.7"/>
<text class="t" transform="translate(333.65,238.45) scale(0.87,1)">8</text>
<line class="k" x1="353.63" x2="353.63" y1="230.7" y2="232.7"/>
<text class="t" transform="translate(353.03,238.45) scale(0.87,1)">10</text>
<line class="k" x1="373.00" x2="373.00" y1="230.7" y2="232.7"/>
<text class="t" transform="translate(372.40,238.45) scale(0.87,1)">12</text>
<line class="k" x1="392.38" x2="392.38" y1="230.7" y2="232.7"/>
<text class="t" transform="translate(391.78,238.45) scale(0.87,1)">14</text>
<line class="k" x1="411.76" x2="411.76" y1="230.7" y2="232.7"/>
<text class="t" transform="translate(411.16,238.45) scale(0.87,1)">16</text>
<line class="k" x1="250.0" x2="251.6" y1="7.75" y2="7.75"/>
<text class="t" style="font-size:7.6px" transform="translate(247.0,8.35) scale(0.9,1) rotate(-90)">0</text>
<line class="k" x1="250.0" x2="251.6" y1="21.24" y2="21.24"/>
<text class="t" style="font-size:7.6px" transform="translate(247.0,21.84) scale(0.9,1) rotate(-90)">1</text>
<line class="k" x1="250.0" x2="251.6" y1="34.74" y2="34.74"/>
<text class="t" style="font-size:7.6px" transform="translate(247.0,35.34) scale(0.9,1) rotate(-90)">2</text>
<line class="k" x1="250.0" x2="251.6" y1="48.23" y2="48.23"/>
<text class="t" style="font-size:7.6px" transform="translate(247.0,48.83) scale(0.9,1) rotate(-90)">3</text>
<line class="k" x1="250.0" x2="251.6" y1="61.72" y2="61.72"/>
<text class="t" style="font-size:7.6px" transform="translate(247.0,62.32) scale(0.9,1) rotate(-90)">4</text>
<line class="k" x1="250.0" x2="251.6" y1="75.22" y2="75.22"/>
<text class="t" style="font-size:7.6px" transform="translate(247.0,75.82) scale(0.9,1) rotate(-90)">5</text>
<line class="k" x1="250.0" x2="251.6" y1="88.71" y2="88.71"/>
<text class="t" style="font-size:7.6px" transform="translate(247.0,89.31) scale(0.9,1) rotate(-90)">6</text>
<line class="k" x1="250.0" x2="251.6" y1="102.21" y2="102.21"/>
<text class="t" style="font-size:7.6px" transform="translate(247.0,102.81) scale(0.9,1) rotate(-90)">7</text>
<line class="k" x1="250.0" x2="251.6" y1="115.70" y2="115.70"/>
<text class="t" style="font-size:7.6px" transform="translate(247.0,116.30) scale(0.9,1) rotate(-90)">8</text>
<line class="k" x1="250.0" x2="251.6" y1="129.19" y2="129.19"/>
<text class="t" style="font-size:7.6px" transform="translate(247.0,129.79) scale(0.9,1) rotate(-90)">9</text>
<line class="k" x1="250.0" x2="251.6" y1="142.69" y2="142.69"/>
<text class="t" style="font-size:7.6px" transform="translate(247.0,143.29) scale(0.9,1) rotate(-90)">10</text>
<line class="k" x1="250.0" x2="251.6" y1="156.18" y2="156.18"/>
<text class="t" style="font-size:7.6px" transform="translate(247.0,156.78) scale(0.9,1) rotate(-90)">11</text>
<line class="k" x1="250.0" x2="251.6" y1="169.68" y2="169.68"/>
<text class="t" style="font-size:7.6px" transform="translate(247.0,170.28) scale(0.9,1) rotate(-90)">12</text>
<line class="k" x1="250.0" x2="251.6" y1="183.17" y2="183.17"/>
<text class="t" style="font-size:7.6px" transform="translate(247.0,183.77) scale(0.9,1) rotate(-90)">13</text>
<line class="k" x1="250.0" x2="251.6" y1="196.66" y2="196.66"/>
<text class="t" style="font-size:7.6px" transform="translate(247.0,197.26) scale(0.9,1) rotate(-90)">14</text>
<line class="k" x1="250.0" x2="251.6" y1="210.16" y2="210.16"/>
<text class="t" style="font-size:7.6px" transform="translate(247.0,210.76) scale(0.9,1) rotate(-90)">15</text>
<line class="k" x1="250.0" x2="251.6" y1="223.65" y2="223.65"/>
<text class="t" style="font-size:7.6px" transform="translate(247.0,224.25) scale(0.9,1) rotate(-90)">16</text>
<defs><linearGradient id="gb" x1="0" y1="0" x2="0" y2="1"><stop offset="0.0000" stop-color="#a50026"/><stop offset="0.0312" stop-color="#b30d26"/><stop offset="0.0625" stop-color="#c21c27"/><stop offset="0.0938" stop-color="#d22b27"/><stop offset="0.1250" stop-color="#dd3d2d"/><stop offset="0.1562" stop-color="#e65036"/><stop offset="0.1875" stop-color="#ef633f"/><stop offset="0.2188" stop-color="#f57748"/><stop offset="0.2500" stop-color="#f88c51"/><stop offset="0.2812" stop-color="#fba05b"/><stop offset="0.3125" stop-color="#fdb366"/><stop offset="0.3438" stop-color="#fdc374"/><stop offset="0.3750" stop-color="#fed283"/><stop offset="0.4062" stop-color="#fee192"/><stop offset="0.4375" stop-color="#feeba1"/><stop offset="0.4688" stop-color="#fff5af"/><stop offset="0.5000" stop-color="#fffebe"/><stop offset="0.5312" stop-color="#f6fbd0"/><stop offset="0.5625" stop-color="#ecf8e2"/><stop offset="0.5938" stop-color="#e2f4f4"/><stop offset="0.6250" stop-color="#d4edf4"/><stop offset="0.6562" stop-color="#c3e5f0"/><stop offset="0.6875" stop-color="#b2ddeb"/><stop offset="0.7188" stop-color="#a1d1e5"/><stop offset="0.7500" stop-color="#90c3dd"/><stop offset="0.7812" stop-color="#7fb6d6"/><stop offset="0.8125" stop-color="#6ea6ce"/><stop offset="0.8438" stop-color="#6095c4"/><stop offset="0.8750" stop-color="#5183bb"/><stop offset="0.9062" stop-color="#4471b2"/><stop offset="0.9375" stop-color="#3e5ea8"/><stop offset="0.9688" stop-color="#374a9f"/><stop offset="1.0000" stop-color="#313695"/></linearGradient></defs><rect x="426.60" y="1.00" width="11.30" height="229.40" fill="url(#gb)"/>
<line class="k" x1="437.9" x2="439.6" y1="22.50" y2="22.50"/>
<text class="c" transform="translate(441.0,26.10) scale(0.9,1)">−1</text>
<line class="k" x1="437.9" x2="439.6" y1="64.08" y2="64.08"/>
<text class="c" transform="translate(441.0,67.68) scale(0.9,1)">−2</text>
<line class="k" x1="437.9" x2="439.6" y1="105.66" y2="105.66"/>
<text class="c" transform="translate(441.0,109.26) scale(0.9,1)">−3</text>
<line class="k" x1="437.9" x2="439.6" y1="147.24" y2="147.24"/>
<text class="c" transform="translate(441.0,150.84) scale(0.9,1)">−4</text>
<line class="k" x1="437.9" x2="439.6" y1="188.82" y2="188.82"/>
<text class="c" transform="translate(441.0,192.42) scale(0.9,1)">−5</text>
<line class="k" x1="437.9" x2="439.6" y1="230.40" y2="230.40"/>
<text class="c" transform="translate(441.0,234.00) scale(0.9,1)">−6</text>
<text class="l" transform="translate(334.0,248.9) scale(1.06,1)">(b)</text>
</svg></body></html>
